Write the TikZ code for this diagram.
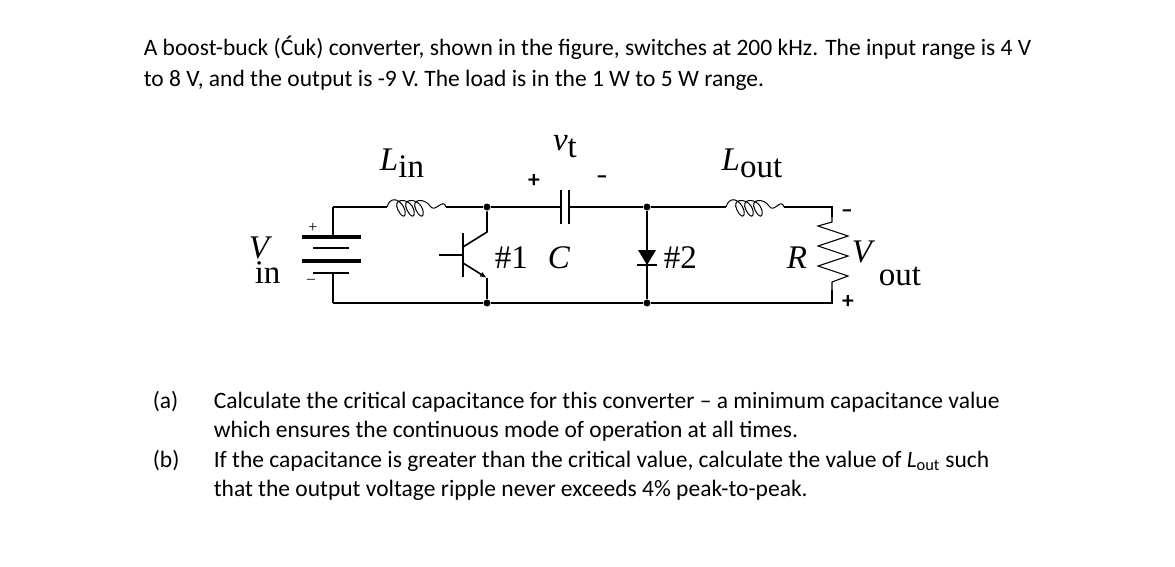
\documentclass[tikz,border=0pt]{standalone}
\usepackage{fontspec}
\usetikzlibrary{arrows.meta}
\setmainfont{Carlito}
\newfontfamily\ser{Liberation Serif}
\begin{document}
\begin{tikzpicture}[x=1pt,y=-1pt,line width=1.6pt,
  dot/.style={circle,fill,inner sep=0pt,minimum size=7pt},
  txt/.style={anchor=base west,inner sep=0pt,font=\fontsize{23.5}{28}\selectfont},
  lab/.style={inner sep=0pt,font=\ser\fontsize{33}{36}\selectfont}]
\useasboundingbox (0,0) rectangle (1175,567);
% text
\node[txt] at (143,56) {A boost-buck (Ćuk) converter, shown in the figure, switches at 200 kHz. The input range is 4 V};
\node[txt] at (143,87) {to 8 V, and the output is -9 V. The load is in the 1 W to 5 W range.};
\node[txt] at (152,408) {(a)};
\node[txt] at (213,408) {Calculate the critical capacitance for this converter -- a minimum capacitance value};
\node[txt] at (213,437) {which ensures the continuous mode of operation at all times.};
\node[txt] at (152,467) {(b)};
\node[txt] at (213,467) {If the capacitance is greater than the critical value, calculate the value of \textit{L}\textsubscript{out} such};
\node[txt] at (213,496) {that the output voltage ripple never exceeds 4\% peak-to-peak.};
% coordinates
\coordinate (tl) at (333,207); \coordinate (bl) at (333,303);
\node[dot] (n1) at (487,207) {}; \node[dot] (n1b) at (487,303) {};
\node[dot] (n2) at (647,207) {}; \node[dot] (n2b) at (647,303) {};
\coordinate (tr) at (832,207); \coordinate (br) at (832,303);
\coordinate (li1) at (387,207); \coordinate (li2) at (446,207);
\coordinate (lo1) at (726,207); \coordinate (lo2) at (784,207);
\coordinate (c1) at (561,207); \coordinate (c2) at (569,207);
% battery
\draw (tl) -- (333,237); \draw (bl) -- (333,273);
\draw[line width=3.4pt] (302,237) -- (361,237) (302,261) -- (361,261);
\draw (313,248) -- (349,248) (313,273) -- (349,273);
% wires
\draw (tl) -- (li1) (li2) -- (n1) -- (c1) (c2) -- (n2) -- (lo1) (lo2) -- (tr) -- (832,217);
\draw (bl) -- (n1b) -- (n2b) -- (br) -- (832,290);
% inductors
\foreach \a/\b in {li1/li2,lo1/lo2}{
\draw[line width=1pt] (\a) .. controls ++(3,-10) and ++(-5,-8) .. ++(16,-1)
  .. controls ++(5,8) and ++(6,12) .. ++(-5,4) .. controls ++(-6,-12) and ++(-5,-8) .. ++(14,-4)
  .. controls ++(5,8) and ++(6,12) .. ++(-5,4) .. controls ++(-6,-12) and ++(-5,-8) .. ++(14,-4)
  .. controls ++(5,8) and ++(6,12) .. ++(-5,4) .. controls ++(-6,-12) and ++(-5,-8) .. ++(14,-4)
  .. controls ++(5,8) and ++(-3,-10) .. (\b);}
% capacitor
\draw (c1) ++(0,-17) -- ++(0,34); \draw (c2) ++(0,-17) -- ++(0,34);
% transistor
\draw (n1) -- (487,232) -- (463,247);
\draw (463,233) -- (463,277);
\draw (439,255) -- (463,255);
\draw[-{Latex[length=7pt]}] (463,263) -- (487,278);
\draw (487,278) -- (n1b);
% diode
\draw (n2) -- (n2b);
\fill (638,250) -- (656,250) -- (647,265) -- cycle;
\draw (637,265) -- (657,265);
% resistor
\draw[line width=1.1pt] (832,217) -- (832,222) -- (818,226) -- (848,236) -- (818,246) -- (848,256) -- (818,266) -- (848,276) -- (832,282) -- (832,290);
% labels
\node[lab,anchor=base] at (402,170) {\textit{L}\raisebox{-7pt}{in}};
\node[lab,anchor=base] at (565,150) {\textit{v}\raisebox{-7pt}{t}};
\node[txt,anchor=center] at (534,181) {\textbf{+}};
\node[txt,anchor=center] at (602,180) {\textbf{\textendash}};
\node[lab,anchor=base west] at (494,268) {\#1};
\node[lab,anchor=base] at (559,268) {\textit{C}};
\node[lab,anchor=base west] at (663,268) {\#2};
\node[lab,anchor=base] at (752,170) {\textit{L}\raisebox{-7pt}{out}};
\node[lab,anchor=base] at (797,268) {\textit{R}};
\node[lab,anchor=base west] at (851,262) {\textit{V}};
\node[lab,anchor=base west] at (878,285) {out};
\node[txt,anchor=center] at (847,214) {\textbf{\textendash}};
\node[txt,anchor=center] at (848,302) {\textbf{+}};
\node[lab,anchor=base west] at (248,258) {\textit{V}};
\node[lab,anchor=base west] at (254,283) {in};
\node[inner sep=0pt,font=\ser\fontsize{16}{16}\selectfont] at (313,228) {+};
\node[inner sep=0pt,font=\ser\fontsize{16}{16}\selectfont] at (311,281) {\textendash};
\end{tikzpicture}
\end{document}
